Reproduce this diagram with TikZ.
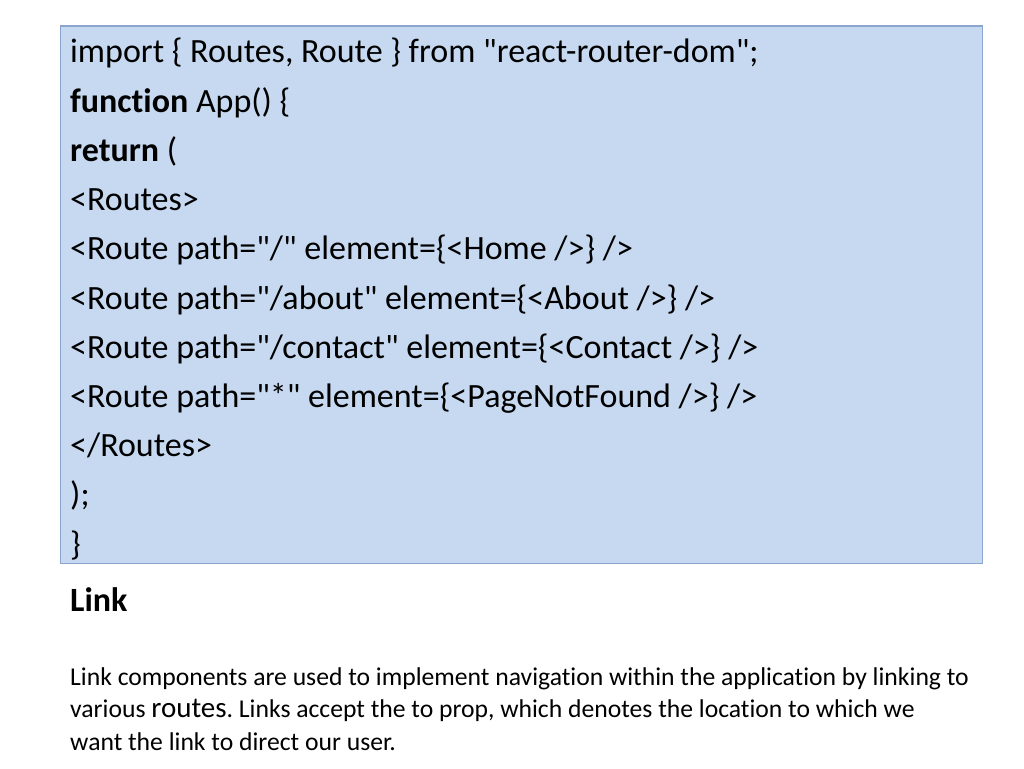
\documentclass[tikz,border=0pt]{standalone}
\usepackage{fontspec}
\newfontfamily\slidefont{Carlito}[Ligatures={NoCommon,NoRequired,NoContextual}]
\begin{document}
\slidefont\frenchspacing
\begin{tikzpicture}[x=1pt,y=-1pt,
  codeline/.style={anchor=base west,inner sep=0pt,font=\slidefont\fontsize{34}{40}\selectfont},
  bodyline/.style={anchor=base west,inner sep=0pt,font=\slidefont\fontsize{25.65}{30}\selectfont},
  headline/.style={anchor=base west,inner sep=0pt,font=\slidefont\fontsize{34}{40}\selectfont\bfseries}]
\useasboundingbox[fill=white] (0,0) rectangle (1024,768);
\definecolor{boxfill}{HTML}{C6D9F0}
\definecolor{boxline}{HTML}{8AA6CF}
\node[draw=boxline,fill=boxfill,line width=1.2pt,minimum width=922,minimum height=537,anchor=north west,inner sep=0pt] (box) at (59.5,25.5) {};
\node[codeline] (l1) at (70,63) {import \{ Routes, Route \} from "react-router-dom";};
\node[codeline] (l2) at (70,112.2) {\textbf{function} App() \{};
\node[codeline] (l3) at (70,161.4) {\textbf{return} (};
\node[codeline] (l4) at (70,210.6) {<Routes>};
\node[codeline] (l5) at (70,259.8) {<Route path="/" element=\{<Home />\} />};
\node[codeline] (l6) at (70,309) {<Route path="/about" element=\{<About />\} />};
\node[codeline] (l7) at (70,358.2) {<Route path="/contact" element=\{<Contact />\} />};
\node[codeline] (l8) at (70,407.4) {<Route path="*" element=\{<PageNotFound />\} />};
\node[codeline] (l9) at (70,456.6) {</Routes>};
\node[codeline] (l10) at (70,505.8) {);};
\node[codeline] (l11) at (70,555) {\}};
\node[headline] (head) at (70,611) {Link};
\node[bodyline] (p1) at (70,685) {Link components are used to implement navigation within the application by linking to};
\node[bodyline] (p2) at (70,717) {various {\fontsize{29}{34}\selectfont routes}. Links accept the to prop, which denotes the location to which we};
\node[bodyline] (p3) at (70,750) {want the link to direct our user.};
\end{tikzpicture}
\end{document}
